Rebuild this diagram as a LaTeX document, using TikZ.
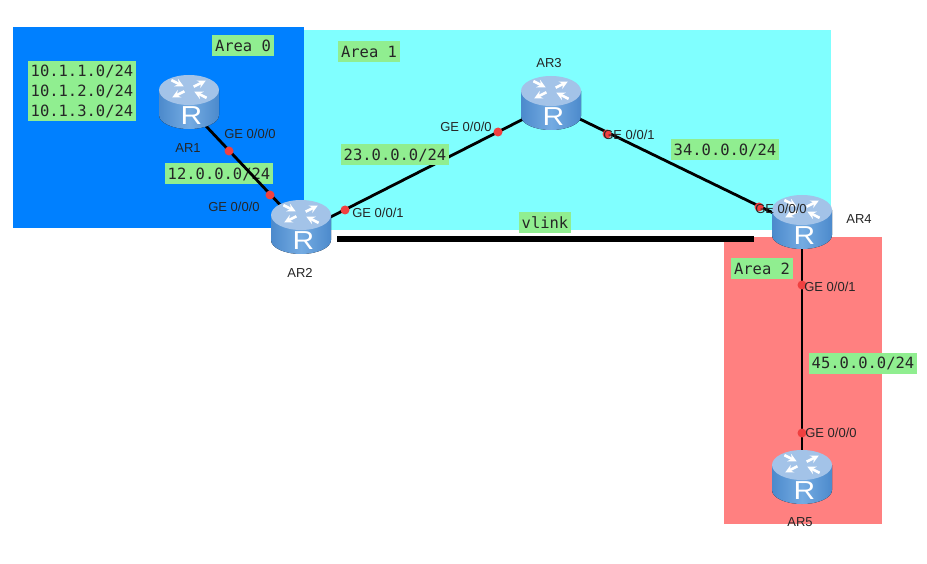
\documentclass[tikz,border=0pt]{standalone}
\usepackage{fontspec}
\setmainfont{Liberation Sans}
\newfontfamily\labelfont{DejaVu Sans Mono}
\definecolor{areablue}{HTML}{0080FF}
\definecolor{areacyan}{HTML}{80FFFF}
\definecolor{areared}{HTML}{FF8080}
\definecolor{notegreen}{HTML}{90EE90}
\definecolor{portred}{HTML}{F04040}
\definecolor{bodylight}{HTML}{74ABE2}
\definecolor{bodydark}{HTML}{4C8ACC}
\definecolor{topblue}{HTML}{A3C3E8}
\pgfdeclarelayer{areas}
\pgfdeclarelayer{links}
\pgfsetlayers{areas,links,main}
\tikzset{
  note/.style={fill=notegreen,font=\labelfont\fontsize{15.5}{20}\selectfont,text=black!85,
    inner xsep=3pt,inner ysep=0pt,minimum height=21pt,align=left},
  port/.style={circle,fill=portred,inner sep=0pt,minimum size=9pt},
  portname/.style={font=\fontsize{13}{15}\selectfont,text=black!85,inner sep=0pt},
  routername/.style={font=\fontsize{13}{15}\selectfont,text=black!85,inner sep=0pt},
  link/.style={line width=2.8pt},
  vlink/.style={line width=6pt},
  router/.style={minimum width=60pt,minimum height=54pt,inner sep=0pt},
  router icon/.pic={
    % cylinder body and top
    \fill[left color=bodydark,right color=bodydark,middle color=bodylight]
      (-30,-12) -- (-30,13) arc[start angle=180,end angle=360,x radius=30pt,y radius=14pt]
      -- (30,-12) -- cycle;
    \fill[topblue] (0,-12) ellipse[x radius=30pt,y radius=15pt];
    % the four arrows on top
    \foreach \a/\from/\to in {40/3/19,220/3/19,140/20/4,320/20/4}
      \draw[white,line width=2.6pt,-stealth,shift={(0,-13)},yscale=.6,rotate=\a,xshift=3pt]
        (\from,0) -- (\to,0);
    \node[text=white,inner sep=0pt,font=\fontsize{26}{26}\selectfont,xscale=1.15] at (2.5,13.5) {R};
  }
}
\begin{document}
\begin{tikzpicture}[x=1pt,y=-1pt]
    \useasboundingbox (0,0) rectangle (927,564);
    \begin{pgfonlayer}{areas}
    \fill[white] (0,0) rectangle (927,564);
    \fill[areablue] (13,27) rectangle (304,228);
    \fill[areacyan] (304,30) rectangle (831,230);
    \fill[areared] (724,237) rectangle (882,524);
    \end{pgfonlayer}
    \node[router] (AR1) at (189,102) {};
    \node[router] (AR2) at (301,227) {};
    \node[router] (AR3) at (551,103) {};
    \node[router] (AR4) at (802,222) {};
    \node[router] (AR5) at (802,477) {};
    \foreach \r in {AR1,AR2,AR3,AR4,AR5}
      \pic at (\r) {router icon};
    \node[routername] at (188,148) {AR1};
    \node[routername] at (300,273) {AR2};
    \node[routername] at (549,63) {AR3};
    \node[routername] at (859,219) {AR4};
    \node[routername] at (800,522) {AR5};
    \coordinate (vleft) at (337,239);
    \coordinate (vright) at (754,239);
    \begin{pgfonlayer}{links}
    \node[note] at (219,174) {12.0.0.0/24};
    \draw[link] ([yshift=-6pt]AR1.center) -- (AR2.center);
    \draw[link] ([yshift=-5pt]AR2.center) -- ([yshift=-2pt]AR3.center);
    \draw[link] ([yshift=-2pt]AR3.center) -- ([yshift=-5pt]AR4.center);
    \draw[link] (AR4.center) -- (AR5.center);
    \draw[vlink] (vleft) -- (vright);
    \end{pgfonlayer}
    \node[port] at (229,151) {};
    \node[port] at (270,195) {};
    \node[port] at (345,210) {};
    \node[port] at (498,132) {};
    \node[port] at (607,134) {};
    \node[port] at (759,207) {};
    \node[port] at (802,285) {};
    \node[port] at (802,433) {};
    \node[portname] at (250,134) {GE 0/0/0};
    \node[portname] at (234,207) {GE 0/0/0};
    \node[portname] at (378,213) {GE 0/0/1};
    \node[portname] at (466,127) {GE 0/0/0};
    \node[portname] at (629,135) {GE 0/0/1};
    \node[portname] at (781,209) {GE 0/0/0};
    \node[portname] at (830,287) {GE 0/0/1};
    \node[portname] at (831,433) {GE 0/0/0};
    \node[note] at (243,46) {Area 0};
    \node[note] at (369,52) {Area 1};
    \node[note] at (762,269) {Area 2};
    \node[note,minimum height=60pt] at (82,91) {10.1.1.0/24\\10.1.2.0/24\\10.1.3.0/24};
    \node[note] at (395,155) {23.0.0.0/24};
    \node[note] at (725,150) {34.0.0.0/24};
    \node[note] at (863,363) {45.0.0.0/24};
    \node[note] at (545,223) {vlink};
\end{tikzpicture}
\end{document}
